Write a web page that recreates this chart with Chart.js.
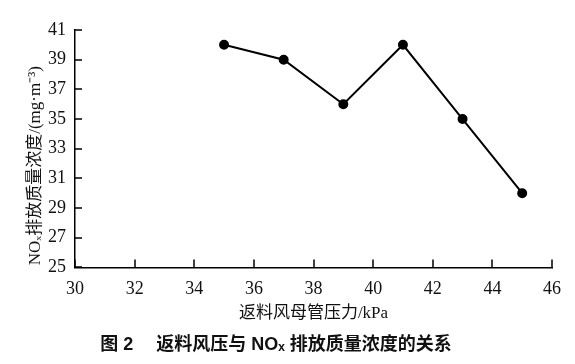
<!DOCTYPE html>
<html>
<head>
<meta charset="utf-8">
<script src="https://cdn.jsdelivr.net/npm/chart.js@4/dist/chart.umd.min.js"></script>
<style>
  html, body { margin: 0; padding: 0; background: #fff; }
  #wrap { width: 575px; height: 364px; }
</style>
</head>
<body>
<div id="wrap"><canvas id="chart" width="575" height="364"></canvas></div>
<script>
// 返料风母管压力 (kPa) and NOx concentration (mg/m3)
const pressures = [35, 37, 39, 41, 43, 45]
const noxValues = [40, 39, 36, 40, 35, 30]

const xTicks = [30, 32, 34, 36, 38, 40, 42, 44, 46]
const yTicks = [25, 27, 29, 31, 33, 35, 37, 39, 41]

const serif = '"Liberation Serif", "Noto Sans CJK SC", serif'

// short tick marks pointing into the plot
const inwardTicks = {
  id: 'inwardTicks',
  afterDraw(chart) {
    const ctx = chart.ctx
    const x = chart.scales.x
    const y = chart.scales.y
    ctx.save()
    ctx.strokeStyle = '#000'
    ctx.lineWidth = 1.5
    ctx.beginPath()
    xTicks.forEach(v => {
      const px = Math.round(x.getPixelForValue(v))
      ctx.moveTo(px, y.bottom)
      ctx.lineTo(px, y.bottom - 8)
    })
    yTicks.forEach(v => {
      const py = Math.round(y.getPixelForValue(v))
      ctx.moveTo(x.left, py)
      ctx.lineTo(x.left + 7, py)
    })
    ctx.stroke()
    ctx.restore()
  }
}

new Chart(document.getElementById('chart'), {
  type: 'line',
  data: {
    datasets: [{
      data: pressures.map((p, i) => ({ x: p, y: noxValues[i] })),
      borderColor: '#000',
      backgroundColor: '#000',
      borderWidth: 2,
      pointRadius: 4,
      pointHoverRadius: 4,
      tension: 0
    }]
  },
  options: {
    responsive: false,
    animation: false,
    layout: { padding: { left: 0, right: 23, top: 30, bottom: 0 } },
    plugins: {
      legend: { display: false },
      tooltip: { enabled: false },
      title: {
        display: true,
        position: 'bottom',
        text: '图 2　 返料风压与 NOₓ 排放质量浓度的关系',
        color: '#111',
        font: { family: '"Liberation Sans", "Noto Sans CJK SC", sans-serif', size: 18, weight: 'bold' },
        padding: { top: 3, bottom: 8 }
      }
    },
    scales: {
      x: {
        type: 'linear',
        min: 30,
        max: 46,
        afterBuildTicks: s => { s.ticks = xTicks.map(v => ({ value: v })) },
        afterFit: s => { s.height = 64 },
        grid: { display: false, drawTicks: false },
        border: { display: true, color: '#000', width: 1.5 },
        ticks: { color: '#111', padding: 11, font: { family: serif, size: 18 } },
        title: {
          display: true,
          text: '返料风母管压力/kPa',
          color: '#111',
          font: { family: serif, size: 17 },
          padding: 8
        }
      },
      y: {
        type: 'linear',
        min: 25,
        max: 41,
        afterBuildTicks: s => { s.ticks = yTicks.map(v => ({ value: v })) },
        afterFit: s => { s.width = 75 },
        grid: { display: false, drawTicks: false },
        border: { display: true, color: '#000', width: 1.5 },
        ticks: { color: '#111', padding: 9, font: { family: serif, size: 18 } },
        title: {
          display: true,
          // trailing spaces nudge the rotated title down a little
          text: 'NOₓ排放质量浓度/(mg·m⁻³)　　',
          color: '#111',
          font: { family: serif, size: 17 },
          padding: 25
        }
      }
    }
  },
  plugins: [inwardTicks]
})
</script>
</body>
</html>
